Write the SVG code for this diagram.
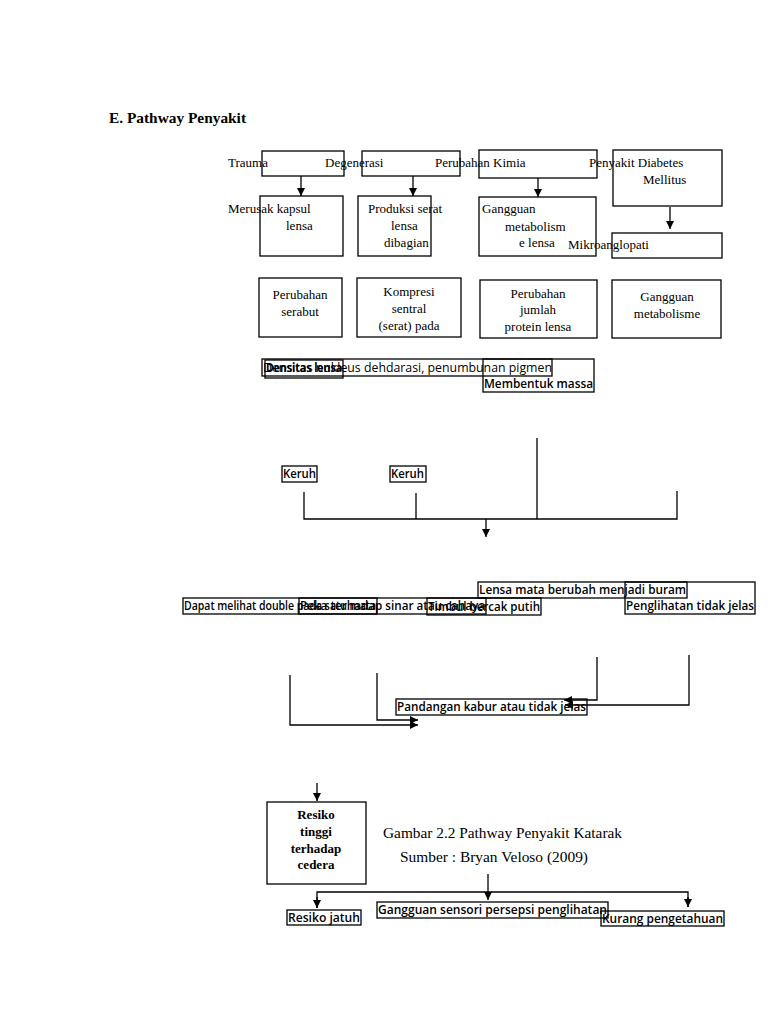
<svg xmlns="http://www.w3.org/2000/svg" width="768" height="1024" viewBox="0 0 768 1024">
<style>
.bx{fill:none;stroke:#000;stroke-width:1.3}
.ln{fill:none;stroke:#000;stroke-width:1.3}
.sf{font-family:"Liberation Serif","Times New Roman",serif;font-size:13px;fill:#000}
.ss{font-family:"Open Sans","Liberation Sans",sans-serif;font-size:12px;font-weight:600;fill:#000}
.tb{font-family:"Liberation Serif","Times New Roman",serif;font-size:13px;font-weight:bold;fill:#000}
</style>
<defs>
<marker id="ah" markerUnits="userSpaceOnUse" markerWidth="9" markerHeight="9" refX="8" refY="4" orient="auto">
<path d="M0,0 L8,4 L0,8 z" fill="#000"/>
</marker>
</defs>
<rect width="768" height="1024" fill="#fff"/>
<text x="109" y="123" class="tb" style="font-size:14.5px" textLength="137" lengthAdjust="spacingAndGlyphs">E. Pathway Penyakit</text>

<g id="trauma"><rect class="bx" x="262" y="151" width="82" height="25"/><text class="sf" x="228" y="167">Trauma</text></g>
<g id="degenerasi"><rect class="bx" x="362" y="151" width="98" height="25"/><text class="sf" x="325" y="167">Degenerasi</text></g>
<g id="kimia"><rect class="bx" x="479" y="150" width="118" height="28"/><text class="sf" x="435" y="167">Perubahan Kimia</text></g>
<g id="diabetes"><rect class="bx" x="613" y="150" width="109" height="56"/><text class="sf" x="589" y="167">Penyakit Diabetes</text><text class="sf" x="643" y="184">Mellitus</text></g>

<g id="merusak"><rect class="bx" x="260" y="196" width="83" height="60"/><text class="sf" x="228" y="213">Merusak kapsul</text><text class="sf" x="286" y="230">lensa</text></g>
<g id="produksi"><rect class="bx" x="358" y="196" width="73" height="60"/><text class="sf" x="368" y="213">Produksi serat</text><text class="sf" x="391" y="230">lensa</text><text class="sf" x="384" y="247">dibagian</text></g>
<g id="gangguan1"><rect class="bx" x="479" y="197" width="117" height="59"/><text class="sf" x="482" y="213">Gangguan</text><text class="sf" x="505" y="231">metabolism</text><text class="sf" x="519" y="247">e lensa</text></g>
<g id="mikro"><rect class="bx" x="612" y="233" width="110" height="25"/><text class="sf" x="568" y="249">Mikroanglopati</text></g>

<g id="serabut"><rect class="bx" x="259" y="278" width="83" height="59"/><text class="sf" x="300" y="299" text-anchor="middle">Perubahan</text><text class="sf" x="300" y="316" text-anchor="middle">serabut</text></g>
<g id="kompresi"><rect class="bx" x="357" y="278" width="104" height="59"/><text class="sf" x="409" y="296" text-anchor="middle">Kompresi</text><text class="sf" x="409" y="313" text-anchor="middle">sentral</text><text class="sf" x="409" y="330" text-anchor="middle">(serat) pada</text></g>
<g id="protein"><rect class="bx" x="480" y="280" width="117" height="58"/><text class="sf" x="538" y="298" text-anchor="middle">Perubahan</text><text class="sf" x="538" y="314" text-anchor="middle">jumlah</text><text class="sf" x="538" y="331" text-anchor="middle">protein lensa</text></g>
<g id="gangguan2"><rect class="bx" x="612" y="280" width="109" height="58"/><text class="sf" x="667" y="301" text-anchor="middle">Gangguan</text><text class="sf" x="667" y="318" text-anchor="middle">metabolisme</text></g>

<g id="densitas">
<rect class="bx" x="262" y="359" width="290" height="17"/>
<text class="ss" x="263" y="372" textLength="289" lengthAdjust="spacingAndGlyphs" style="font-weight:normal">Densitas nukleus dehdarasi, penumbunan pigmen</text>
<rect class="bx" x="265" y="360" width="78" height="18"/>
<text class="ss" x="266" y="372" textLength="76" lengthAdjust="spacingAndGlyphs" style="font-weight:bold">Densitas lensa</text>
</g>
<g id="massa"><rect class="bx" x="483" y="359" width="111" height="33"/><text class="ss" x="484" y="388" textLength="109" lengthAdjust="spacingAndGlyphs">Membentuk massa</text></g>

<g id="keruh1"><rect class="bx" x="282" y="466" width="35" height="16"/><text class="ss" x="283" y="478" textLength="33" lengthAdjust="spacingAndGlyphs">Keruh</text></g>
<g id="keruh2"><rect class="bx" x="390" y="466" width="36" height="16"/><text class="ss" x="391" y="478" textLength="33" lengthAdjust="spacingAndGlyphs">Keruh</text></g>

<g id="double"><rect class="bx" x="183" y="598" width="194" height="16"/><text class="ss" x="184" y="610" textLength="192" lengthAdjust="spacingAndGlyphs">Dapat melihat double pada satu mata</text></g>
<g id="peka"><rect class="bx" x="299" y="598" width="187" height="16"/><text class="ss" x="300" y="610" textLength="185" lengthAdjust="spacingAndGlyphs">Peka terhadap sinar atau cahaya</text></g>
<g id="bercak"><rect class="bx" x="427" y="598" width="114" height="17"/><text class="ss" x="428" y="611" textLength="112" lengthAdjust="spacingAndGlyphs">Timbul bercak putih</text></g>
<g id="buram"><rect class="bx" x="478" y="582" width="209" height="16"/><text class="ss" x="479" y="594" textLength="207" lengthAdjust="spacingAndGlyphs">Lensa mata berubah menjadi buram</text></g>
<g id="penglihatan"><rect class="bx" x="625" y="582" width="130" height="32"/><text class="ss" x="626" y="610" textLength="128" lengthAdjust="spacingAndGlyphs">Penglihatan tidak jelas</text></g>

<g id="kabur"><rect class="bx" x="396" y="699" width="191" height="16"/><text class="ss" x="397" y="711" textLength="189" lengthAdjust="spacingAndGlyphs">Pandangan kabur atau tidak jelas</text></g>

<g id="cedera"><rect class="bx" x="267" y="802" width="99" height="82"/>
<text class="tb" x="316" y="819" text-anchor="middle">Resiko</text>
<text class="tb" x="316" y="836" text-anchor="middle">tinggi</text>
<text class="tb" x="316" y="853" text-anchor="middle">terhadap</text>
<text class="tb" x="316" y="869" text-anchor="middle">cedera</text></g>

<g id="caption">
<text class="sf" x="383" y="838" style="font-size:14px" textLength="239" lengthAdjust="spacingAndGlyphs">Gambar 2.2 Pathway Penyakit Katarak</text>
<text class="sf" x="400" y="862" style="font-size:14px" textLength="188" lengthAdjust="spacingAndGlyphs">Sumber : Bryan Veloso (2009)</text>
</g>

<g id="jatuh"><rect class="bx" x="287" y="910" width="74" height="15"/><text class="ss" x="288" y="922" textLength="72" lengthAdjust="spacingAndGlyphs">Resiko jatuh</text></g>
<g id="sensori"><rect class="bx" x="377" y="902" width="231" height="16"/><text class="ss" x="378" y="914" textLength="229" lengthAdjust="spacingAndGlyphs">Gangguan sensori persepsi penglihatan</text></g>
<g id="pengetahuan"><rect class="bx" x="601" y="911" width="123" height="15"/><text class="ss" x="602" y="923" textLength="121" lengthAdjust="spacingAndGlyphs">Kurang pengetahuan</text></g>

<g id="connectors">
<line class="ln" x1="301" y1="176" x2="301" y2="196" marker-end="url(#ah)"/>
<line class="ln" x1="413" y1="176" x2="413" y2="196" marker-end="url(#ah)"/>
<line class="ln" x1="538" y1="178" x2="538" y2="197" marker-end="url(#ah)"/>
<line class="ln" x1="670" y1="207" x2="670" y2="229" marker-end="url(#ah)"/>

<path class="ln" d="M304,492 V519 H677 V491"/>
<line class="ln" x1="416" y1="493" x2="416" y2="519"/>
<line class="ln" x1="537" y1="438" x2="537" y2="519"/>
<line class="ln" x1="486" y1="519" x2="486" y2="537" marker-end="url(#ah)"/>

<path class="ln" d="M290,675 V725 H418" marker-end="url(#ah)"/>
<path class="ln" d="M377,673 V720 H418" marker-end="url(#ah)"/>
<path class="ln" d="M597,657 V700 H564" marker-end="url(#ah)"/>
<path class="ln" d="M689,655 V705 H565" marker-end="url(#ah)"/>

<line class="ln" x1="317" y1="783" x2="317" y2="801" marker-end="url(#ah)"/>
<line class="ln" x1="488" y1="874" x2="488" y2="900" marker-end="url(#ah)"/>
<path class="ln" d="M317,908 V892 H688 V907" />
<line class="ln" x1="317" y1="897" x2="317" y2="908" marker-end="url(#ah)"/>
<line class="ln" x1="688" y1="897" x2="688" y2="907" marker-end="url(#ah)"/>
</g>
</svg>
